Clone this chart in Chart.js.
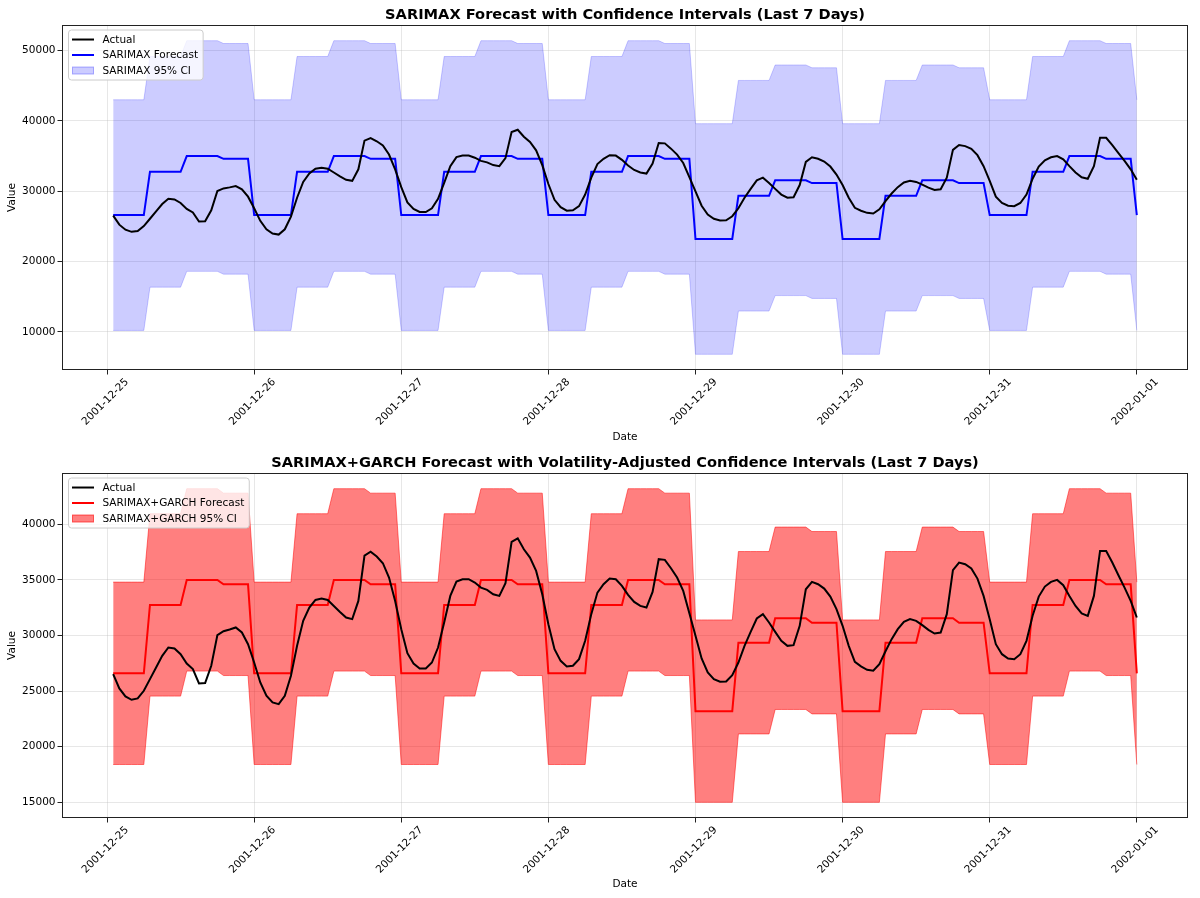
<!DOCTYPE html>
<html>
<head>
<meta charset="utf-8">
<title>SARIMAX vs SARIMAX+GARCH</title>
<script src="https://cdn.jsdelivr.net/npm/chart.js@4.4.0/dist/chart.umd.min.js"></script>
<style>
  html, body { margin: 0; padding: 0; background: #fff; }
  #wrap { position: relative; width: 1200px; height: 898px; }
  canvas { position: absolute; left: 0; }
  #top-chart { top: 0; }
  #bottom-chart { top: 448px; }
</style>
</head>
<body>
<div id="wrap">
  <canvas id="top-chart" width="1200" height="448"></canvas>
  <canvas id="bottom-chart" width="1200" height="450"></canvas>
</div>
<script>
// hourly values, 2001-12-25 01:00 ... 2002-01-01 00:00 (one line per day)
const firstHour = 1;
const dayTicks = [0, 24, 48, 72, 96, 120, 144, 168];
const dayLabels = ["2001-12-25", "2001-12-26", "2001-12-27", "2001-12-28", "2001-12-29", "2001-12-30", "2001-12-31", "2002-01-01"];

const actual = [
  26530, 25240, 24520, 24220, 24340, 25030, 26080, 27130, 28170, 28920, 28830, 28320, 27480, 26980, 25690, 25720, 27280, 30030, 30390, 30540, 30720, 30270, 29220, 27570,
  25780, 24580, 23980, 23830, 24580, 26380, 29070, 31320, 32510, 33200, 33320, 33200, 32660, 32120, 31620, 31470, 33110, 37190, 37540, 37100, 36500, 35210, 33110, 30570,
  28410, 27480, 27040, 27040, 27570, 28920, 31170, 33560, 34850, 35060, 35060, 34760, 34310, 34100, 33710, 33560, 34700, 38410, 38740, 37750, 37010, 35810, 33710, 31020,
  28770, 27720, 27220, 27280, 27870, 29520, 31920, 33860, 34610, 35120, 35060, 34460, 33650, 33020, 32660, 32510, 33920, 36860, 36800, 36050, 35210, 34010, 32010, 29970,
  27930, 26680, 26080, 25840, 25870, 26440, 27570, 29070, 30330, 31530, 31920, 31170, 30330, 29520, 29070, 29130, 30870, 34160, 34820, 34610, 34220, 33500, 32370, 30870,
  29070, 27630, 27220, 26920, 26830, 27430, 28580, 29670, 30570, 31230, 31470, 31320, 30930, 30510, 30180, 30270, 31920, 35870, 36560, 36410, 36020, 35120, 33560, 31470,
  29220, 28320, 27930, 27870, 28320, 29520, 31770, 33500, 34400, 34820, 35000, 34520, 33560, 32660, 31980, 31770, 33560, 37600, 37600, 36560, 35420, 34310, 33110, 31620
];

const forecast = [
  26600, 26600, 26600, 26600, 26600, 26600, 32750, 32750, 32750, 32750, 32750, 32750, 35000, 35000, 35000, 35000, 35000, 35000, 34600, 34600, 34600, 34600, 34600, 26600,
  26600, 26600, 26600, 26600, 26600, 26600, 32750, 32750, 32750, 32750, 32750, 32750, 35000, 35000, 35000, 35000, 35000, 35000, 34600, 34600, 34600, 34600, 34600, 26600,
  26600, 26600, 26600, 26600, 26600, 26600, 32750, 32750, 32750, 32750, 32750, 32750, 35000, 35000, 35000, 35000, 35000, 35000, 34600, 34600, 34600, 34600, 34600, 26600,
  26600, 26600, 26600, 26600, 26600, 26600, 32750, 32750, 32750, 32750, 32750, 32750, 35000, 35000, 35000, 35000, 35000, 35000, 34600, 34600, 34600, 34600, 34600, 23200,
  23200, 23200, 23200, 23200, 23200, 23200, 29350, 29350, 29350, 29350, 29350, 29350, 31550, 31550, 31550, 31550, 31550, 31550, 31150, 31150, 31150, 31150, 31150, 23200,
  23200, 23200, 23200, 23200, 23200, 23200, 29350, 29350, 29350, 29350, 29350, 29350, 31550, 31550, 31550, 31550, 31550, 31550, 31150, 31150, 31150, 31150, 31150, 26600,
  26600, 26600, 26600, 26600, 26600, 26600, 32750, 32750, 32750, 32750, 32750, 32750, 35000, 35000, 35000, 35000, 35000, 35000, 34600, 34600, 34600, 34600, 34600, 26600
];

const sarimaxUpper = [
  43000, 43000, 43000, 43000, 43000, 43000, 49150, 49150, 49150, 49150, 49150, 49150, 51400, 51400, 51400, 51400, 51400, 51400, 51000, 51000, 51000, 51000, 51000, 43000,
  43000, 43000, 43000, 43000, 43000, 43000, 49150, 49150, 49150, 49150, 49150, 49150, 51400, 51400, 51400, 51400, 51400, 51400, 51000, 51000, 51000, 51000, 51000, 43000,
  43000, 43000, 43000, 43000, 43000, 43000, 49150, 49150, 49150, 49150, 49150, 49150, 51400, 51400, 51400, 51400, 51400, 51400, 51000, 51000, 51000, 51000, 51000, 43000,
  43000, 43000, 43000, 43000, 43000, 43000, 49150, 49150, 49150, 49150, 49150, 49150, 51400, 51400, 51400, 51400, 51400, 51400, 51000, 51000, 51000, 51000, 51000, 39600,
  39600, 39600, 39600, 39600, 39600, 39600, 45750, 45750, 45750, 45750, 45750, 45750, 47950, 47950, 47950, 47950, 47950, 47950, 47550, 47550, 47550, 47550, 47550, 39600,
  39600, 39600, 39600, 39600, 39600, 39600, 45750, 45750, 45750, 45750, 45750, 45750, 47950, 47950, 47950, 47950, 47950, 47950, 47550, 47550, 47550, 47550, 47550, 43000,
  43000, 43000, 43000, 43000, 43000, 43000, 49150, 49150, 49150, 49150, 49150, 49150, 51400, 51400, 51400, 51400, 51400, 51400, 51000, 51000, 51000, 51000, 51000, 43000
];

const sarimaxLower = [
  10200, 10200, 10200, 10200, 10200, 10200, 16350, 16350, 16350, 16350, 16350, 16350, 18600, 18600, 18600, 18600, 18600, 18600, 18200, 18200, 18200, 18200, 18200, 10200,
  10200, 10200, 10200, 10200, 10200, 10200, 16350, 16350, 16350, 16350, 16350, 16350, 18600, 18600, 18600, 18600, 18600, 18600, 18200, 18200, 18200, 18200, 18200, 10200,
  10200, 10200, 10200, 10200, 10200, 10200, 16350, 16350, 16350, 16350, 16350, 16350, 18600, 18600, 18600, 18600, 18600, 18600, 18200, 18200, 18200, 18200, 18200, 10200,
  10200, 10200, 10200, 10200, 10200, 10200, 16350, 16350, 16350, 16350, 16350, 16350, 18600, 18600, 18600, 18600, 18600, 18600, 18200, 18200, 18200, 18200, 18200, 6800,
  6800, 6800, 6800, 6800, 6800, 6800, 12950, 12950, 12950, 12950, 12950, 12950, 15150, 15150, 15150, 15150, 15150, 15150, 14750, 14750, 14750, 14750, 14750, 6800,
  6800, 6800, 6800, 6800, 6800, 6800, 12950, 12950, 12950, 12950, 12950, 12950, 15150, 15150, 15150, 15150, 15150, 15150, 14750, 14750, 14750, 14750, 14750, 10200,
  10200, 10200, 10200, 10200, 10200, 10200, 16350, 16350, 16350, 16350, 16350, 16350, 18600, 18600, 18600, 18600, 18600, 18600, 18200, 18200, 18200, 18200, 18200, 10200
];

const garchUpper = [
  34800, 34800, 34800, 34800, 34800, 34800, 40950, 40950, 40950, 40950, 40950, 40950, 43200, 43200, 43200, 43200, 43200, 43200, 42800, 42800, 42800, 42800, 42800, 34800,
  34800, 34800, 34800, 34800, 34800, 34800, 40950, 40950, 40950, 40950, 40950, 40950, 43200, 43200, 43200, 43200, 43200, 43200, 42800, 42800, 42800, 42800, 42800, 34800,
  34800, 34800, 34800, 34800, 34800, 34800, 40950, 40950, 40950, 40950, 40950, 40950, 43200, 43200, 43200, 43200, 43200, 43200, 42800, 42800, 42800, 42800, 42800, 34800,
  34800, 34800, 34800, 34800, 34800, 34800, 40950, 40950, 40950, 40950, 40950, 40950, 43200, 43200, 43200, 43200, 43200, 43200, 42800, 42800, 42800, 42800, 42800, 31400,
  31400, 31400, 31400, 31400, 31400, 31400, 37550, 37550, 37550, 37550, 37550, 37550, 39750, 39750, 39750, 39750, 39750, 39750, 39350, 39350, 39350, 39350, 39350, 31400,
  31400, 31400, 31400, 31400, 31400, 31400, 37550, 37550, 37550, 37550, 37550, 37550, 39750, 39750, 39750, 39750, 39750, 39750, 39350, 39350, 39350, 39350, 39350, 34800,
  34800, 34800, 34800, 34800, 34800, 34800, 40950, 40950, 40950, 40950, 40950, 40950, 43200, 43200, 43200, 43200, 43200, 43200, 42800, 42800, 42800, 42800, 42800, 34800
];

const garchLower = [
  18400, 18400, 18400, 18400, 18400, 18400, 24550, 24550, 24550, 24550, 24550, 24550, 26800, 26800, 26800, 26800, 26800, 26800, 26400, 26400, 26400, 26400, 26400, 18400,
  18400, 18400, 18400, 18400, 18400, 18400, 24550, 24550, 24550, 24550, 24550, 24550, 26800, 26800, 26800, 26800, 26800, 26800, 26400, 26400, 26400, 26400, 26400, 18400,
  18400, 18400, 18400, 18400, 18400, 18400, 24550, 24550, 24550, 24550, 24550, 24550, 26800, 26800, 26800, 26800, 26800, 26800, 26400, 26400, 26400, 26400, 26400, 18400,
  18400, 18400, 18400, 18400, 18400, 18400, 24550, 24550, 24550, 24550, 24550, 24550, 26800, 26800, 26800, 26800, 26800, 26800, 26400, 26400, 26400, 26400, 26400, 15000,
  15000, 15000, 15000, 15000, 15000, 15000, 21150, 21150, 21150, 21150, 21150, 21150, 23350, 23350, 23350, 23350, 23350, 23350, 22950, 22950, 22950, 22950, 22950, 15000,
  15000, 15000, 15000, 15000, 15000, 15000, 21150, 21150, 21150, 21150, 21150, 21150, 23350, 23350, 23350, 23350, 23350, 23350, 22950, 22950, 22950, 22950, 22950, 18400,
  18400, 18400, 18400, 18400, 18400, 18400, 24550, 24550, 24550, 24550, 24550, 24550, 26800, 26800, 26800, 26800, 26800, 26800, 26400, 26400, 26400, 26400, 26400, 18400
];

const topTicks = [10000, 20000, 30000, 40000, 50000];
const bottomTicks = [15000, 20000, 25000, 30000, 35000, 40000];

Chart.defaults.font.family = "'DejaVu Sans', sans-serif";
Chart.defaults.color = '#000';

const tickFont = { size: 10.5 };
const gridColor = 'rgba(176, 176, 176, 0.3)';

function toPoints(values) {
    return values.map(function(v, i) { return { x: firstHour + i, y: v }; });
}

// spines + matplotlib-like legend in the upper left corner
const framePlugin = {
    id: 'frame',
    afterDraw(chart, args, opts) {
        const ctx = chart.ctx;
        const a = chart.chartArea;
        ctx.save();
        ctx.strokeStyle = '#222';
        ctx.lineWidth = 1;
        ctx.strokeRect(Math.round(a.left) + 0.5, Math.round(a.top) + 0.5, Math.round(a.right - a.left) - 1, Math.round(a.bottom - a.top) - 1);

        ctx.font = "10.5px 'DejaVu Sans'";
        let maxW = 0;
        opts.items.forEach(function(it) { maxW = Math.max(maxW, ctx.measureText(it.label).width); });
        const bx = a.left + 6.5, by = a.top + 5;
        const bw = 34 + maxW + 5, bh = 50;
        ctx.beginPath();
        ctx.roundRect(bx, by, bw, bh, 3);
        ctx.fillStyle = 'rgba(255, 255, 255, 0.8)';
        ctx.fill();
        ctx.strokeStyle = '#cccccc';
        ctx.stroke();

        opts.items.forEach(function(it, i) {
            const cy = by + 9.5 + i * 15.5;
            if (it.type === 'line') {
                ctx.beginPath();
                ctx.moveTo(bx + 3.5, cy);
                ctx.lineTo(bx + 25.5, cy);
                ctx.strokeStyle = it.color;
                ctx.lineWidth = 2;
                ctx.stroke();
            } else {
                ctx.fillStyle = it.fill;
                ctx.fillRect(bx + 4, cy - 3.5, 21, 7);
                ctx.strokeStyle = it.edge;
                ctx.lineWidth = 1;
                ctx.strokeRect(bx + 4, cy - 3.5, 21, 7);
            }
            ctx.fillStyle = '#000';
            ctx.textBaseline = 'middle';
            ctx.textAlign = 'left';
            ctx.fillText(it.label, bx + 34, cy + 0.5);
        });
        ctx.restore();
    }
};

function makeChart(id, o) {
    return new Chart(document.getElementById(id), {
        type: 'line',
        data: {
            datasets: [
                { label: 'Actual', data: toPoints(actual), borderColor: '#000', borderWidth: 2, pointRadius: 0, fill: false },
                { label: o.fcLabel, data: toPoints(forecast), borderColor: o.color, borderWidth: 2, pointRadius: 0, fill: false },
                { label: o.ciLabel, data: toPoints(o.upper), borderColor: o.edge, backgroundColor: o.fill, borderWidth: 1, pointRadius: 0, fill: '+1' },
                { label: o.ciLabel + ' lower', data: toPoints(o.lower), borderColor: o.edge, borderWidth: 1, pointRadius: 0, fill: false }
            ]
        },
        options: {
            responsive: false,
            animation: false,
            events: [],
            layout: { padding: { left: 0, right: 12, top: 0, bottom: 0 } },
            elements: { line: { tension: 0 } },
            plugins: {
                legend: { display: false },
                tooltip: { enabled: false },
                title: {
                    display: true,
                    text: o.title,
                    fullSize: false,
                    color: '#000',
                    font: { size: 14.6, weight: 'bold', lineHeight: 1.2 },
                    padding: { top: 6.5, bottom: 1 }
                },
                frame: { items: o.legend }
            },
            scales: {
                x: {
                    type: 'linear',
                    min: -7.35,
                    max: 176.35,
                    afterBuildTicks: function(s) { s.ticks = dayTicks.map(function(v) { return { value: v }; }); },
                    afterFit: function(s) { s.height = o.xAxisH; },
                    ticks: {
                        callback: function(v, i) { return dayLabels[i]; },
                        autoSkip: false,
                        minRotation: 45,
                        maxRotation: 45,
                        labelOffset: 20,
                        padding: 1.5,
                        color: '#000',
                        font: tickFont
                    },
                    grid: { color: gridColor, tickColor: '#222', tickLength: 4.5, lineWidth: 1 },
                    border: { display: false },
                    title: { display: true, text: 'Date', color: '#000', font: tickFont, padding: { top: 0, bottom: o.datePad } },
                    z: 1
                },
                y: {
                    min: o.yMin,
                    max: o.yMax,
                    afterBuildTicks: function(s) { s.ticks = o.yTicks.map(function(v) { return { value: v }; }); },
                    afterFit: function(s) { s.width = 62; },
                    ticks: {
                        callback: function(v) { return String(v); },
                        padding: 2,
                        color: '#000',
                        font: tickFont
                    },
                    grid: { color: gridColor, tickColor: '#222', tickLength: 4.5, lineWidth: 1 },
                    border: { display: false },
                    title: { display: true, text: 'Value', color: '#000', font: tickFont, padding: { top: 6, bottom: 0 } },
                    z: 1
                }
            }
        },
        plugins: [framePlugin]
    });
}

let topChart = makeChart('top-chart', {
    title: 'SARIMAX Forecast with Confidence Intervals (Last 7 Days)',
    fcLabel: 'SARIMAX Forecast',
    ciLabel: 'SARIMAX 95% CI',
    color: '#0000ff',
    fill: 'rgba(0, 0, 255, 0.2)',
    edge: 'rgba(0, 0, 255, 0.2)',
    upper: sarimaxUpper,
    lower: sarimaxLower,
    yMin: 4570,
    yMax: 53630,
    yTicks: topTicks,
    xAxisH: 78,
    datePad: 4,
    legend: [
        { type: 'line', label: 'Actual', color: '#000' },
        { type: 'line', label: 'SARIMAX Forecast', color: '#0000ff' },
        { type: 'patch', label: 'SARIMAX 95% CI', fill: 'rgba(0, 0, 255, 0.2)', edge: 'rgba(0, 0, 255, 0.3)' }
    ]
});

let bottomChart = makeChart('bottom-chart', {
    title: 'SARIMAX+GARCH Forecast with Volatility-Adjusted Confidence Intervals (Last 7 Days)',
    fcLabel: 'SARIMAX+GARCH Forecast',
    ciLabel: 'SARIMAX+GARCH 95% CI',
    color: '#ff0000',
    fill: 'rgba(255, 0, 0, 0.5)',
    edge: 'rgba(255, 0, 0, 0.5)',
    upper: garchUpper,
    lower: garchLower,
    yMin: 13590,
    yMax: 44610,
    yTicks: bottomTicks,
    xAxisH: 80,
    datePad: 7,
    legend: [
        { type: 'line', label: 'Actual', color: '#000' },
        { type: 'line', label: 'SARIMAX+GARCH Forecast', color: '#ff0000' },
        { type: 'patch', label: 'SARIMAX+GARCH 95% CI', fill: 'rgba(255, 0, 0, 0.5)', edge: 'rgba(255, 0, 0, 0.6)' }
    ]
});
</script>
</body>
</html>
